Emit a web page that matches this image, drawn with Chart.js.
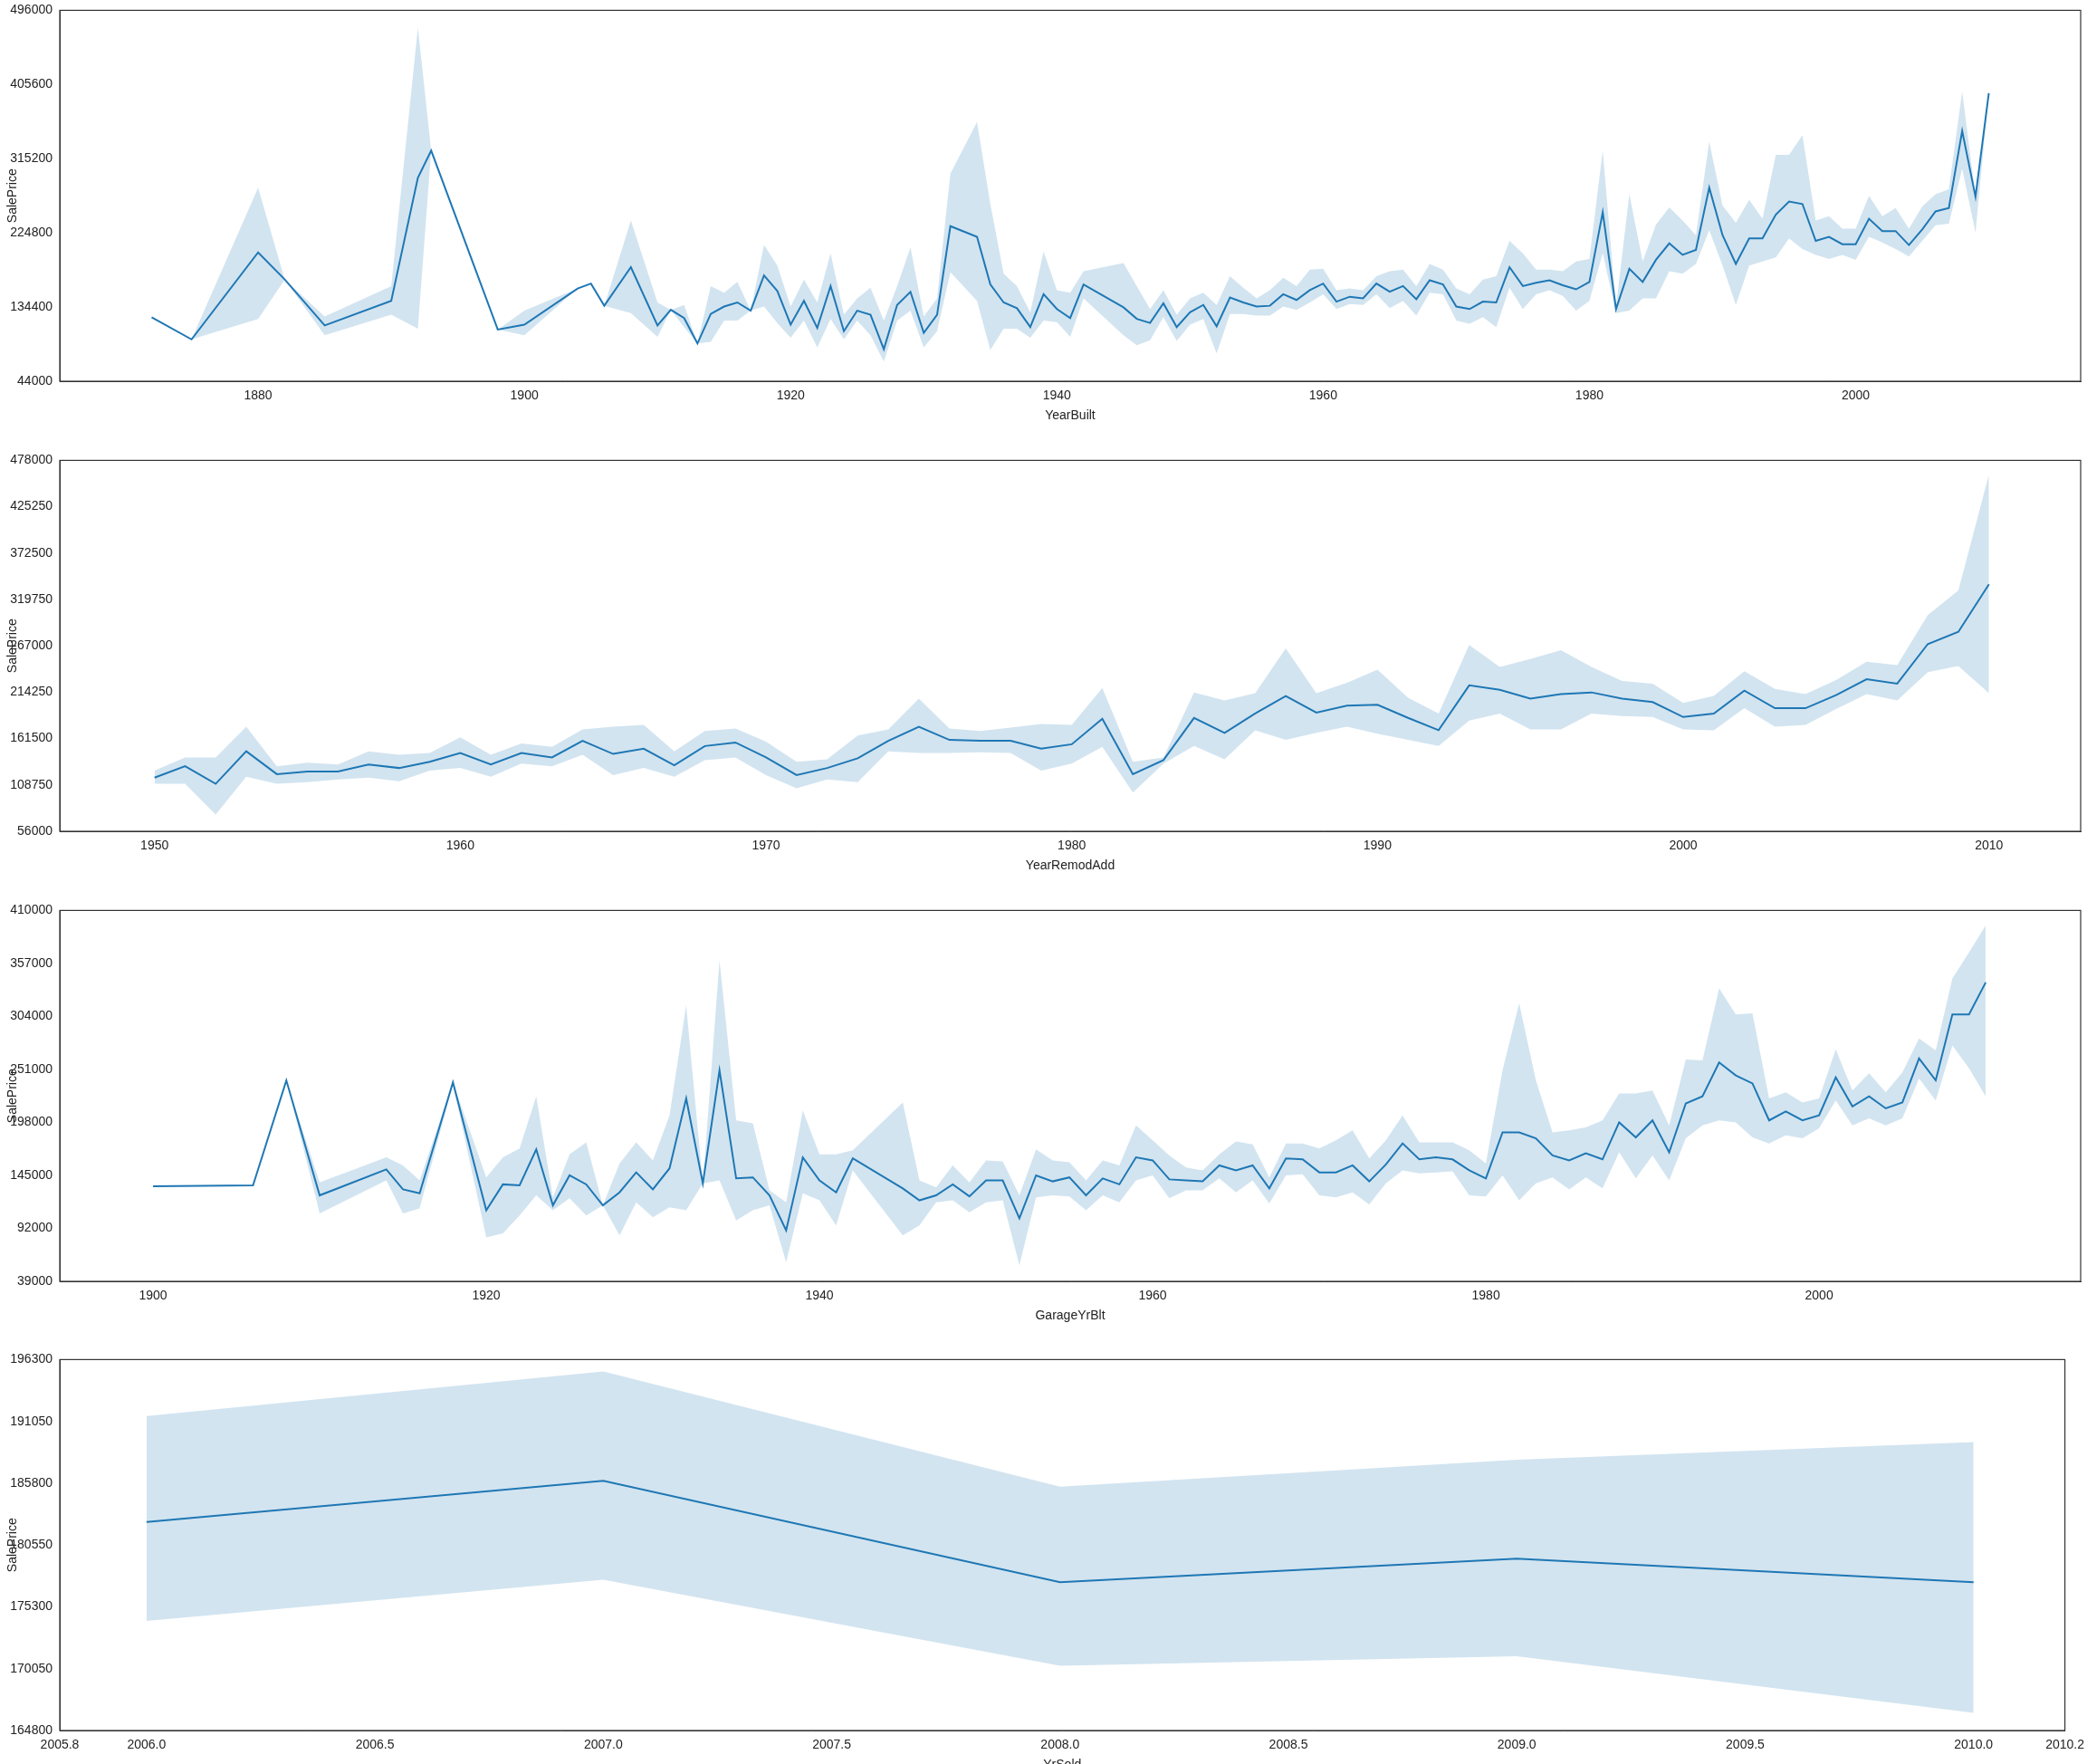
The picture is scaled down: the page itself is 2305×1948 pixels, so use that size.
<!DOCTYPE html>
<html>
<head>
<meta charset="utf-8">
<script src="https://cdn.jsdelivr.net/npm/chart.js@4"></script>
<style>
  body { margin: 0; background: #fff; }
  .panel { position: absolute; left: 0; width: 2305px; height: 470px; }
</style>
</head>
<body>
<div class="panel" style="top:0px"><canvas id="c1"></canvas></div>
<div class="panel" style="top:497px"><canvas id="c2"></canvas></div>
<div class="panel" style="top:994px"><canvas id="c3"></canvas></div>
<div class="panel" style="top:1490px"><canvas id="c4"></canvas></div>
<script>
// values in thousands

// YearBuilt
const builtYears = [1872,1875,1880,1882,1885,1890,1892,1893,1898,1900,1904,1905,1906,1908,1910,1911,1912,1913,1914,1915,1916,1917,1918,1919,1920,1921,1922,1923,1924,1925,1926,1927,1928,1929,1930,1931,1932,1934,1935,1936,1937,1938,1939,1940,1941,1942,1945,1946,1947,1948,1949,1950,1951,1952,1953,1954,1955,1956,1957,1958,1959,1960,1961,1962,1963,1964,1965,1966,1967,1968,1969,1970,1971,1972,1973,1974,1975,1976,1977,1978,1979,1980,1981,1982,1983,1984,1985,1986,1987,1988,1989,1990,1991,1992,1993,1994,1995,1996,1997,1998,1999,2000,2001,2002,2003,2004,2005,2006,2007,2008,2009,2010];
const builtMean = [122,95,201,168,112,142,292,325,107,113,157,163,136,183,112,131,121,90,126,135,140,130,173,154,113,142,109,160,105,130,125,83,137,153,103,125,233,220,162,140,133,110,150,132,121,162,134,120,115,139,110,128,137,111,146,140,135,136,150,143,155,163,141,147,145,163,153,160,144,167,162,135,132,141,140,183,160,164,167,161,156,165,250,132,181,165,192,212,198,204,280,222,187,218,218,247,263,260,215,220,211,211,242,227,227,210,229,251,255,349,269,395];
const builtLow = [122,95,120,168,100,125,108,325,107,100,157,163,136,127,98,131,110,90,92,118,118,130,135,115,97,118,85,120,95,118,100,68,118,130,85,105,177,142,82,108,108,97,118,116,98,145,100,88,94,122,93,113,120,78,126,126,124,124,135,131,140,150,132,138,137,150,133,142,124,152,150,118,114,122,110,158,132,150,155,148,130,142,200,127,130,145,145,178,175,187,228,185,137,185,190,195,218,205,198,193,198,192,220,213,205,196,215,234,236,303,225,395];
const builtHigh = [122,95,280,168,123,160,475,325,107,130,157,163,136,240,140,131,137,90,160,152,165,130,210,185,135,168,140,200,125,145,158,118,160,207,123,145,297,360,260,175,160,128,202,155,152,178,188,160,132,155,125,145,152,137,172,158,145,155,170,160,180,181,155,157,155,172,178,180,160,187,180,157,150,168,172,215,200,180,180,178,190,193,325,135,272,190,235,256,240,222,336,258,237,265,242,320,320,344,240,245,230,230,270,245,255,230,257,272,278,397,269,395];

// YearRemodAdd
const remodYears = [1950,1951,1952,1953,1954,1955,1956,1957,1958,1959,1960,1961,1962,1963,1964,1965,1966,1967,1968,1969,1970,1971,1972,1973,1974,1975,1976,1977,1978,1979,1980,1981,1982,1983,1984,1985,1986,1987,1988,1989,1990,1991,1992,1993,1994,1995,1996,1997,1998,1999,2000,2001,2002,2003,2004,2005,2006,2007,2008,2009,2010];
const remodMean = [117,130,110,147,121,124,124,132,128,135,145,132,145,140,159,144,150,131,153,157,140,120,128,139,159,175,160,159,159,150,155,184,121,137,185,168,190,210,191,199,200,185,171,222,217,207,212,214,207,203,186,190,216,196,196,211,229,224,269,283,337];
const remodLow = [110,110,75,118,110,112,115,117,113,125,128,118,133,130,143,120,128,118,137,140,120,105,115,112,147,145,145,146,145,125,133,152,100,133,153,138,171,160,168,175,167,160,153,182,190,172,172,190,187,186,172,171,196,175,177,195,212,205,237,244,213];
const remodHigh = [125,140,140,175,130,134,132,147,143,145,163,143,156,152,172,175,177,147,170,173,158,135,138,165,172,207,173,170,174,178,177,219,135,140,214,205,213,264,213,225,240,208,190,268,243,252,262,243,227,224,202,210,238,218,212,228,249,245,302,330,462];

// GarageYrBlt
const garageYears = [1900,1906,1908,1910,1914,1915,1916,1918,1920,1921,1922,1923,1924,1925,1926,1927,1928,1929,1930,1931,1932,1933,1934,1935,1936,1937,1938,1939,1940,1941,1942,1945,1946,1947,1948,1949,1950,1951,1952,1953,1954,1955,1956,1957,1958,1959,1960,1961,1962,1963,1964,1965,1966,1967,1968,1969,1970,1971,1972,1973,1974,1975,1976,1977,1978,1979,1980,1981,1982,1983,1984,1985,1986,1987,1988,1989,1990,1991,1992,1993,1994,1995,1996,1997,1998,1999,2000,2001,2002,2003,2004,2005,2006,2007,2008,2009,2010];
const garageMean = [134,135,240,125,151,131,127,238,110,136,135,171,115,145,136,115,128,148,131,152,222,137,250,142,143,125,90,163,140,128,162,132,120,125,136,124,140,140,102,145,139,143,125,142,136,163,160,141,140,139,155,150,155,132,162,161,148,148,155,139,156,177,161,163,161,150,142,188,188,182,165,160,167,161,198,183,200,168,217,224,258,245,237,200,209,200,205,243,214,224,212,218,262,240,306,306,338];
const garageLow = [134,135,240,107,140,107,112,236,83,87,105,125,110,122,105,115,85,118,103,113,110,137,140,100,110,115,58,127,120,95,150,85,95,118,120,108,118,120,55,123,125,124,110,125,118,140,145,122,130,130,142,128,140,117,145,146,125,123,128,116,137,150,147,148,149,125,124,145,120,137,143,131,143,132,168,142,165,140,182,195,200,198,183,177,185,182,192,220,195,202,195,202,242,220,275,252,224];
const garageHigh = [134,135,240,138,163,155,140,238,143,163,172,224,123,166,178,115,157,178,160,205,315,137,360,200,197,130,118,210,166,166,170,218,140,133,155,138,160,159,125,171,160,158,140,160,155,195,180,165,153,150,166,179,176,143,177,177,172,180,190,162,180,205,178,178,178,170,157,250,317,240,188,190,193,200,227,227,230,195,261,260,332,306,307,222,228,218,222,271,230,247,228,248,282,270,342,368,395];

// YrSold
const soldYears = [2006,2007,2008,2009,2010];
const soldMean = [182.5,186.0,177.4,179.4,177.4];
const soldLow = [174.1,177.6,170.3,171.1,166.3];
const soldHigh = [191.5,195.3,185.5,187.8,189.3];

const lineColor = '#1f77b4';
const bandColor = 'rgba(31,119,180,0.2)';

// matplotlib style box around the axes
const boxPlugin = {
    id: 'box',
    afterDraw(chart) {
        const a = chart.chartArea;
        const ctx = chart.ctx;
        ctx.save();
        ctx.strokeStyle = '#333';
        ctx.lineWidth = 1.2;
        ctx.strokeRect(a.left, a.top, a.right - a.left, a.bottom - a.top);
        ctx.restore();
    }
};

function pts(xs, ys) {
    return xs.map((x, i) => ({ x: x, y: ys[i] * 1000 }));
}

function makePanel(id, xs, mean, low, high, xLabel, xr, yr, xStep, yStep, xFmt) {
    new Chart(document.getElementById(id), {
        type: 'line',
        data: {
            datasets: [
                { data: pts(xs, low), borderWidth: 0, pointRadius: 0, fill: false },
                { data: pts(xs, high), borderWidth: 0, pointRadius: 0, fill: '-1', backgroundColor: bandColor },
                { data: pts(xs, mean), borderColor: lineColor, borderWidth: 2, pointRadius: 0, fill: false }
            ]
        },
        options: {
            responsive: true,
            maintainAspectRatio: false,
            animation: false,
            layout: { padding: { top: 7, right: 7, left: 4 } },
            plugins: { legend: { display: false }, tooltip: { enabled: false } },
            scales: {
                x: {
                    type: 'linear',
                    min: xr[0], max: xr[1],
                    grid: { display: false, drawTicks: true, tickLength: 5 },
                    border: { color: '#333' },
                    ticks: {
                        stepSize: xStep, color: '#222', font: { size: 14 },
                        callback: xFmt
                    },
                    afterBuildTicks(s) { s.ticks = s.ticks.filter(t => t.value >= xr[0] && t.value <= xr[1]); },
                    afterFit(s) { s.height = 49; },
                    title: { display: true, text: xLabel, color: '#222', font: { size: 14 }, padding: 2 }
                },
                y: {
                    min: yr[0], max: yr[1],
                    grid: { display: false, tickLength: 5 },
                    border: { color: '#333' },
                    ticks: { stepSize: yStep, color: '#222', font: { size: 14 }, callback: v => String(v) },
                    afterFit(s) { s.width = 62; },
                    title: { display: true, text: 'SalePrice', color: '#222', font: { size: 14 }, padding: 2 }
                }
            }
        },
        plugins: [boxPlugin]
    });
}

const yearFmt = v => (v % 20 === 0 ? String(v) : '');
makePanel('c1', builtYears, builtMean, builtLow, builtHigh, 'YearBuilt', [1865.1, 2016.9], [44000, 496000], 20, 100000, yearFmt);
makePanel('c2', remodYears, remodMean, remodLow, remodHigh, 'YearRemodAdd', [1946.9, 2013.0], [56000, 478000], 10, 50000, v => (v % 10 === 0 ? String(v) : ''));
makePanel('c3', garageYears, garageMean, garageLow, garageHigh, 'GarageYrBlt', [1894.4, 2015.7], [39000, 410000], 20, 50000, yearFmt);
makePanel('c4', soldYears, soldMean, soldLow, soldHigh, 'YrSold', [2005.81, 2010.2], [164800, 196300], 0.5, 5000, v => v.toFixed(1));
</script>
</body>
</html>
